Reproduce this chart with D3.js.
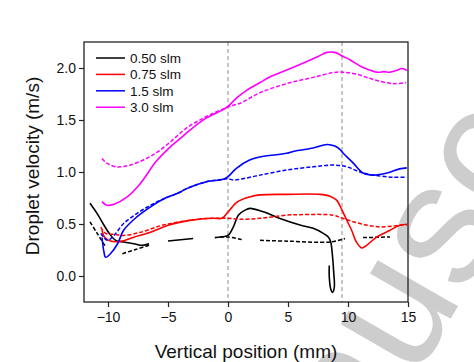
<!DOCTYPE html>
<html>
<head>
<meta charset="utf-8">
<script src="https://cdn.jsdelivr.net/npm/d3@7"></script>
<style>
  html, body { margin: 0; padding: 0; background: #fff; }
  svg { display: block; font-family: "Liberation Sans", Arial, sans-serif; }
</style>
</head>
<body>
<svg id="chart" width="474" height="362"></svg>
<script>
// ---------- data (x in mm, y in m/s; null = gap in the trace) ----------
const legendLabels = ["0.50 slm", "0.75 slm", "1.5 slm", "3.0 slm"];
const xTicks = [-10, -5, 0, 5, 10, 15];
const yTicks = [0.0, 0.5, 1.0, 1.5, 2.0];
const refLines = [0, 9.5];

const s050Solid = [[-11.5,0.70],[-10.9,0.60],[-10.33,0.488],[-9.9,0.41],[-9.36,0.343],[-8.67,0.327],[-7.83,0.31],[-7.14,0.295],[-6.58,0.31],
  null,[-5,0.336],[-2.9,0.36],
  null,[-1.1,0.369],[-0.6,0.375],[0,0.39],[0.44,0.47],[0.86,0.585],[1.42,0.633],[1.83,0.65],[2.94,0.617],[4.33,0.553],[6,0.49],[7.1,0.458],[7.94,0.41],[8.36,0.375],[8.56,0.327],[8.69,0.214],[8.8,0.05],[8.86,-0.108],[8.72,-0.157],[8.56,-0.124],[8.44,-0.01],[8.44,0.10]];
const s050Dash = [[-11.5,0.52],[-10.9,0.41],[-10.19,0.28],
  null,[-8.8,0.214],[-7.7,0.255],[-6.58,0.295],
  null,[-0.67,0.375],[0,0.375],[1.14,0.35],
  null,[2.67,0.343],[5,0.335],[8.5,0.327],[9.75,0.36],
  null,[11.25,0.369],[13.5,0.375]];

const s075Solid = [[-10.5,0.44],[-10.3,0.375],[-9.8,0.336],[-8.9,0.333],[-7.8,0.375],[-6.4,0.423],[-5,0.488],[-3.2,0.535],[-1.25,0.555],[-0.5,0.555],[0,0.615],[0.75,0.71],[1.8,0.76],[2.67,0.78],[4.9,0.785],[7.67,0.785],[8.5,0.768],[9.05,0.73],[9.5,0.633],[9.9,0.536],[10.3,0.44],[10.7,0.327],[11.15,0.27],[11.55,0.295],[12.4,0.375],[13.5,0.44],[14.33,0.488],[14.94,0.498]];
const s075Dash = [[-10.6,0.47],[-10.2,0.41],[-9.5,0.40],[-8.7,0.39],[-7.3,0.42],[-5.4,0.49],[-3.2,0.535],[-1.25,0.555],[0,0.555],[1,0.545],[2.67,0.555],[4.9,0.585],[6,0.59],[8.75,0.585],[9.6,0.553],[11,0.504],[12.67,0.472],[14.33,0.488],[14.9,0.49]];

const s15Solid = [[-10.5,0.37],[-10.35,0.24],[-10.2,0.18],[-9.8,0.214],[-9.2,0.31],[-8.7,0.44],[-7.6,0.568],[-6.45,0.665],[-5.3,0.745],[-4.1,0.80],[-3.45,0.84],[-1.8,0.906],[-0.4,0.93],[0,0.955],[0.7,1.036],[1.8,1.116],[2.67,1.145],[4.9,1.18],[5.5,1.20],[7.1,1.23],[8.25,1.265],[8.9,1.25],[9.3,1.22],[9.6,1.18],[10.4,1.09],[11.25,0.99],[12.1,0.97],[13.25,0.99],[14.3,1.03],[14.9,1.04]];
const s15Dash = [[-10.6,0.41],[-10.05,0.343],[-9.5,0.39],[-8.7,0.504],[-7.6,0.60],[-6.45,0.68],[-5.3,0.745],[-4.1,0.80],[-3.45,0.84],[-1.8,0.906],[-0.4,0.93],[0,0.935],[0.45,0.923],[1,0.93],[2.67,0.97],[4.9,1.02],[7.1,1.05],[8.75,1.067],[9.9,1.05],[11,1.0],[12.1,0.97],[13.75,0.95],[14.9,0.95]];

const s30Solid = [[-10.5,0.715],[-10.1,0.68],[-9.5,0.69],[-8.4,0.76],[-7.3,0.89],[-6,1.10],[-5,1.22],[-4,1.32],[-3.2,1.40],[-1.8,1.52],[-0.4,1.60],[0,1.63],[0.7,1.71],[1.5,1.78],[2.67,1.86],[3.6,1.92],[4.58,1.966],[5.6,2.015],[6.58,2.063],[7.5,2.11],[8.25,2.15],[8.9,2.15],[9.3,2.13],[9.6,2.11],[10.0,2.09],[10.42,2.06],[11.0,2.02],[11.58,1.99],[12.42,1.96],[13.0,1.965],[13.5,1.96],[14.0,1.975],[14.5,1.995],[14.92,1.976]];
const s30Dash = [[-10.5,1.13],[-10.1,1.085],[-9.3,1.05],[-8.2,1.065],[-6.8,1.13],[-5.9,1.19],[-4.8,1.29],[-3.5,1.42],[-2.5,1.49],[-1.5,1.55],[0,1.625],[0.5,1.645],[1,1.66],[2.67,1.763],[4.9,1.85],[7.1,1.91],[8.75,1.956],[9.6,1.96],[10.75,1.94],[12.1,1.89],[13.75,1.85],[14.83,1.86]];

const colors = ["#000000", "#ff0000", "#0000ff", "#ff00ff"];
const series = [
  {pts: s050Solid, c: 0, dash: false}, {pts: s050Dash, c: 0, dash: true},
  {pts: s075Solid, c: 1, dash: false}, {pts: s075Dash, c: 1, dash: true},
  {pts: s15Solid,  c: 2, dash: false}, {pts: s15Dash,  c: 2, dash: true},
  {pts: s30Solid,  c: 3, dash: false}, {pts: s30Dash,  c: 3, dash: true}
];

// ---------- layout ----------
const svg = d3.select("#chart");
const x = d3.scaleLinear().domain([-12, 15]).range([84, 408]);
const y = d3.scaleLinear().domain([-0.25, 2.25]).range([302, 42]);

// watermark (behind the chart)
svg.append("text")
  .attr("transform", "translate(245,675) rotate(-60)")
  .attr("font-size", 175)
  .attr("fill", "#cdcdcd")
  .text("Manuscript");

// reference dashed verticals
svg.selectAll(".ref").data(refLines).enter().append("line")
  .attr("x1", d => x(d)).attr("x2", d => x(d))
  .attr("y1", y(2.25)).attr("y2", y(-0.25))
  .attr("stroke", "#8c8c8c").attr("stroke-width", 1)
  .attr("stroke-dasharray", "4,3");

// data lines
const line = d3.line()
  .defined(d => d !== null)
  .x(d => x(d[0])).y(d => y(d[1]))
  .curve(d3.curveCatmullRom.alpha(0.5));

svg.selectAll(".series").data(series).enter().append("path")
  .attr("d", d => line(d.pts))
  .attr("fill", "none")
  .attr("stroke", d => colors[d.c])
  .attr("stroke-width", d => d.dash ? 1.5 : 1.6)
  .attr("stroke-dasharray", d => d.dash ? "4,2" : null)
  .attr("stroke-linejoin", "round");

// frame
svg.append("rect")
  .attr("x", 84).attr("y", 42).attr("width", 324).attr("height", 260)
  .attr("fill", "none").attr("stroke", "#222").attr("stroke-width", 1.3);

// axes
const xAxis = svg.append("g").attr("transform", "translate(0,302)")
  .call(d3.axisBottom(x).tickValues(xTicks).tickSize(5).tickPadding(5).tickFormat(d3.format("d")));
const yAxis = svg.append("g").attr("transform", "translate(84,0)")
  .call(d3.axisLeft(y).tickValues(yTicks).tickSize(5).tickPadding(3).tickFormat(d3.format(".1f")));
[xAxis, yAxis].forEach(g => {
  g.select(".domain").remove();
  g.selectAll(".tick line").attr("stroke", "#222").attr("stroke-width", 1.2);
  g.selectAll(".tick text").attr("font-size", 14).attr("fill", "#111")
    .attr("font-family", "'Liberation Sans', Arial, sans-serif");
});

// axis titles
svg.append("text").attr("x", 246).attr("y", 358)
  .attr("text-anchor", "middle").attr("font-size", 19).attr("fill", "#111")
  .text("Vertical position (mm)");
svg.append("text").attr("transform", "translate(39,166) rotate(-90)")
  .attr("text-anchor", "middle").attr("font-size", 19).attr("fill", "#111")
  .text("Droplet velocity (m/s)");

// legend
const leg = svg.append("g");
legendLabels.forEach((lab, i) => {
  const ly = 58 + i * 16.4;
  leg.append("line").attr("x1", 96).attr("x2", 125).attr("y1", ly).attr("y2", ly)
    .attr("stroke", colors[i]).attr("stroke-width", 1.5);
  leg.append("text").attr("x", 130).attr("y", ly + 4.7)
    .attr("font-size", 13.5).attr("fill", "#111").text(lab);
});
</script>
</body>
</html>
